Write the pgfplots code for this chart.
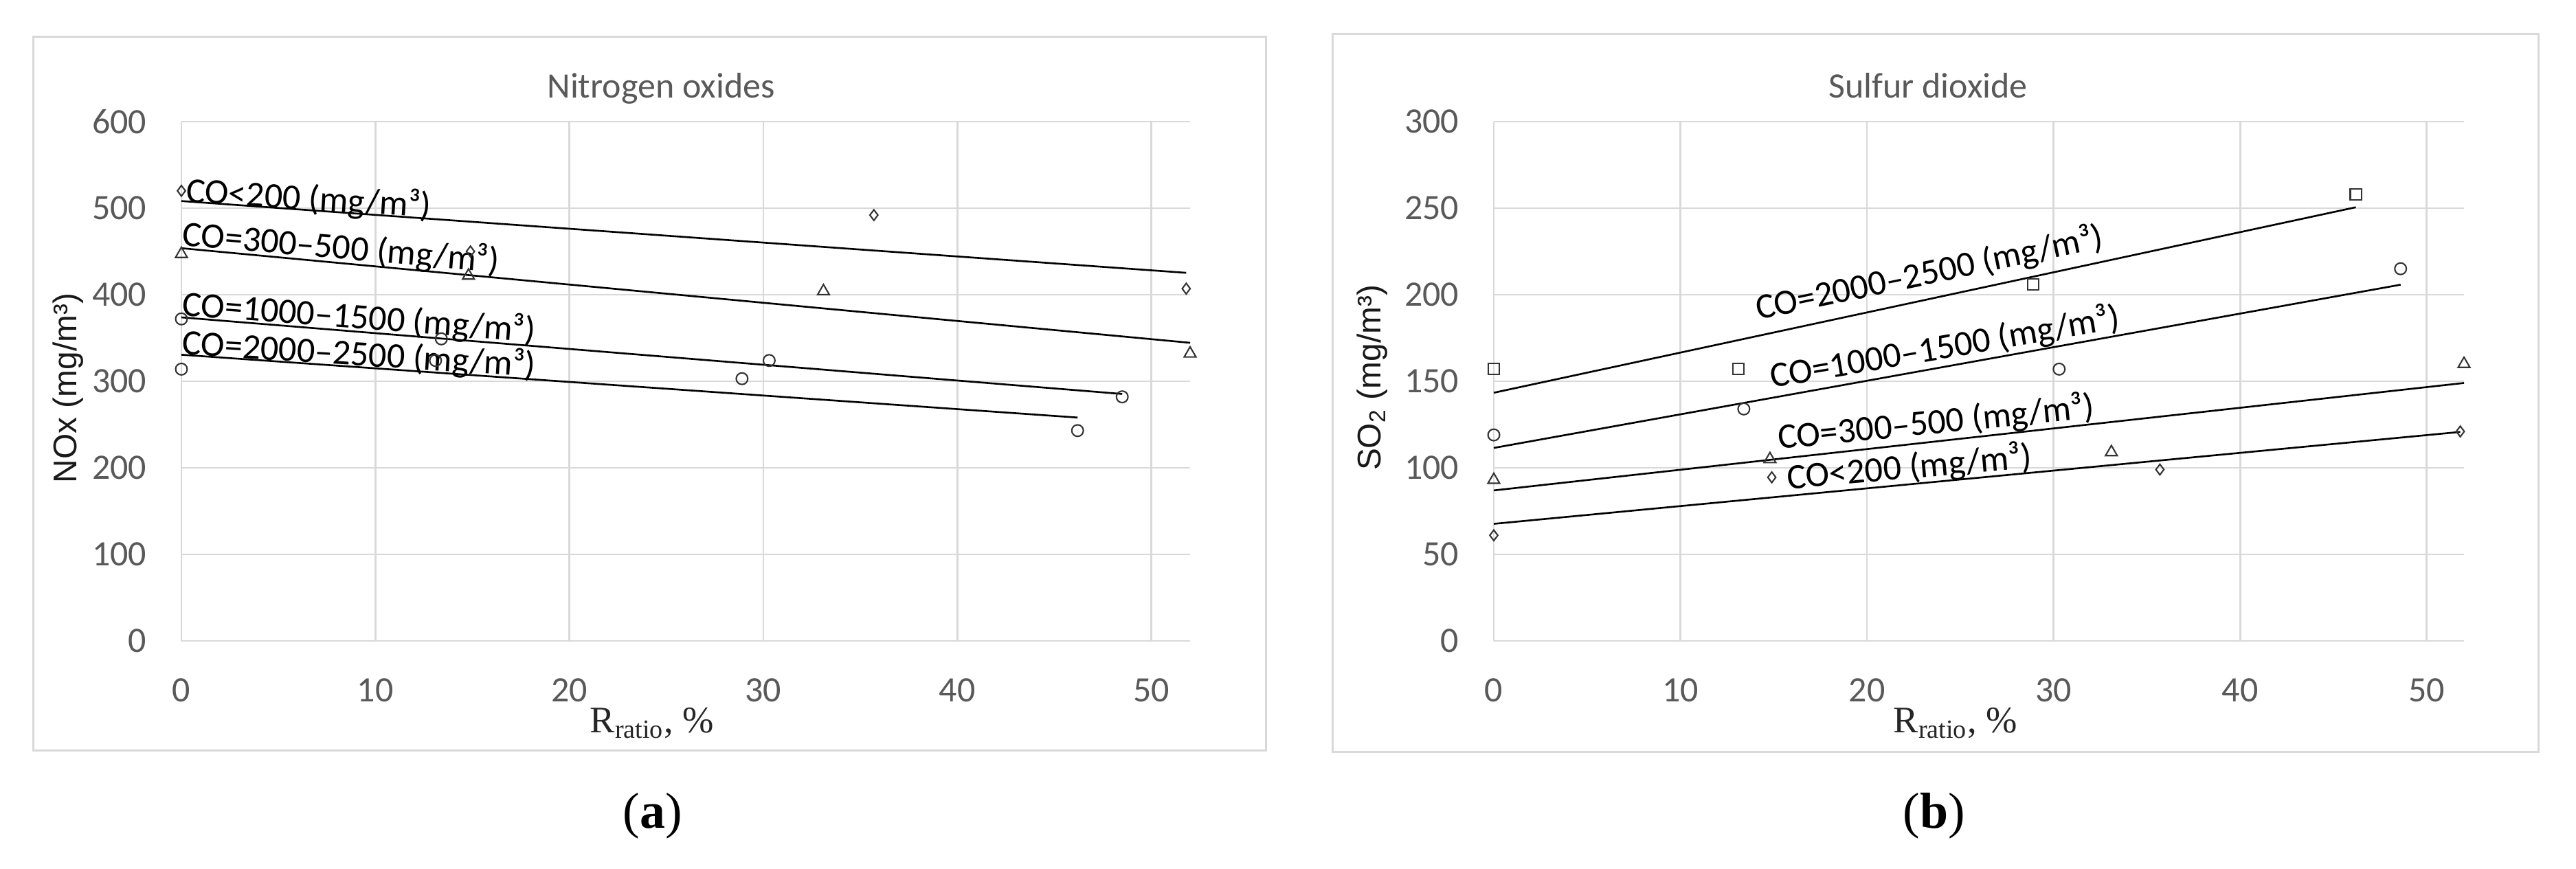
\documentclass[border=0pt]{standalone}
\usepackage{fontspec}
\setmainfont{Carlito}
\newfontfamily\arialf{Liberation Sans}
\newfontfamily\timesf{Liberation Serif}
\usepackage{pgfplots}
\usepackage{pgfplotstable}
\pgfplotsset{compat=1.18}

\definecolor{gridgray}{HTML}{D9D9D9}
\definecolor{ticktext}{HTML}{595959}

% NOx, mg/m3
\pgfplotstableread{
x y
0 520
14.9 450
35.7 492
51.8 407
}\noxA
\pgfplotstableread{
x y
0 447
14.8 422
33.1 404
52.0 332
}\noxB
\pgfplotstableread{
x y
0 372
13.4 349
30.3 324
48.5 282
}\noxC
\pgfplotstableread{
x y
0 314
13.1 324
28.9 303
46.2 243
}\noxD
% SO2, mg/m3
\pgfplotstableread{
x y
0 61
14.9 94.5
35.7 99
51.8 121
}\soA
\pgfplotstableread{
x y
0 93
14.8 105
33.1 109
52.0 160
}\soB
\pgfplotstableread{
x y
0 119
13.4 134
30.3 157
48.6 215
}\soC
\pgfplotstableread{
x y
0 157
13.1 157
28.9 206
46.2 258
}\soD

\newcommand{\lblfont}{\fontsize{14.8}{17}\selectfont}

\tikzset{curvelbl/.style={font=\lblfont, text=black, anchor=base west, inner sep=0pt}}

\pgfplotsset{
  panel/.style={
    scale only axis, height=7.56cm,
    xmin=0, xmax=52, ymin=0,
    xtick={0,10,...,50},
    grid=major,
    major grid style={draw=gridgray, line width=0.75pt},
    axis line style={draw=none},
    major tick length=0pt,
    tick label style={font=\lblfont, text=ticktext, inner sep=0pt},
    /pgf/number format/assume math mode=true,
    yticklabel style={xshift=-0.5cm},
    xticklabel style={yshift=-0.54cm},
    clip=false,
  },
  trend/.style={black, line width=0.75pt, no marks},
  pts/.style={only marks, mark options={draw=black!80, line width=0.6pt, solid}},
}

\begin{document}
\begin{tikzpicture}
\useasboundingbox (0,0) rectangle (37.49,12.65);

% chart frames
\draw[gridgray, line width=0.85pt] (0.485,1.72) rectangle (18.42,12.114);
\draw[gridgray, line width=0.85pt] (19.39,1.70) rectangle (36.94,12.15);

% (a) Nitrogen oxides
\begin{axis}[panel, at={(2.64cm,3.32cm)}, anchor=south west,
  width=14.68cm, ymax=600, ytick={0,100,...,600}]
\addplot[pts, mark=diamond, mark size=2.2pt] table[x=x,y=y]{\noxA};
\addplot[pts, mark=triangle, mark size=2.8pt] table[x=x,y=y]{\noxB};
\addplot[pts, mark=o, mark size=2.4pt] table[x=x,y=y]{\noxC};
\addplot[pts, mark=o, mark size=2.4pt] table[x=x,y=y]{\noxD};
\addplot[trend] table[x=x, y={create col/linear regression={y=y}}]{\noxA};
\addplot[trend] table[x=x, y={create col/linear regression={y=y}}]{\noxB};
\addplot[trend] table[x=x, y={create col/linear regression={y=y}}]{\noxC};
\addplot[trend] table[x=x, y={create col/linear regression={y=y}}]{\noxD};
\node[curvelbl, rotate=-3.6] at (axis cs:0.2,507) {CO<200 (mg/m³)};
\node[curvelbl, rotate=-4.9] at (axis cs:0.0,457) {CO=300–500 (mg/m³)};
\node[curvelbl, rotate=-4.3] at (axis cs:0.0,376) {CO=1000–1500 (mg/m³)};
\node[curvelbl, rotate=-3.6] at (axis cs:0.0,331) {CO=2000–2500 (mg/m³)};
\end{axis}

% (b) Sulfur dioxide
\begin{axis}[panel, at={(21.74cm,3.32cm)}, anchor=south west,
  width=14.12cm, ymax=300, ytick={0,50,...,300}]
\addplot[pts, mark=diamond, mark size=2.2pt] table[x=x,y=y]{\soA};
\addplot[pts, mark=triangle, mark size=2.8pt] table[x=x,y=y]{\soB};
\addplot[pts, mark=o, mark size=2.4pt] table[x=x,y=y]{\soC};
\addplot[pts, mark=square, mark size=2.3pt] table[x=x,y=y]{\soD};
\addplot[trend] table[x=x, y={create col/linear regression={y=y}}]{\soA};
\addplot[trend] table[x=x, y={create col/linear regression={y=y}}]{\soB};
\addplot[trend] table[x=x, y={create col/linear regression={y=y}}]{\soC};
\addplot[trend] table[x=x, y={create col/linear regression={y=y}}]{\soD};
\node[curvelbl, rotate=11.8] at (axis cs:14.16,185.3) {CO=2000–2500 (mg/m³)};
\node[curvelbl, rotate=9.7] at (axis cs:14.9,146.0) {CO=1000–1500 (mg/m³)};
\node[curvelbl, rotate=5.7] at (axis cs:15.27,110.7) {CO=300–500 (mg/m³)};
\node[curvelbl, rotate=5.0] at (axis cs:15.75,87.6) {CO<200 (mg/m³)};
\end{axis}

% titles
\node[font=\lblfont, text=ticktext, anchor=base] at (9.62,11.22) {Nitrogen oxides};
\node[font=\lblfont, text=ticktext, anchor=base] at (28.06,11.22) {Sulfur dioxide};

% axis titles
\node[font=\arialf\fontsize{13.6}{16}\selectfont, text=black!90, rotate=90] at (0.99,7.0) {NOx (mg/m³)};
\node[font=\arialf\fontsize{13.6}{16}\selectfont, text=black!90, rotate=90] at (19.97,7.15) {SO\textsubscript{2} (mg/m³)};
\node[font=\timesf\fontsize{15.5}{18}\selectfont, text=black!85, anchor=base] at (9.49,1.98) {R\textsubscript{ratio}, \%};
\node[font=\timesf\fontsize{15.5}{18}\selectfont, text=black!85, anchor=base] at (28.46,1.98) {R\textsubscript{ratio}, \%};

% panel captions
\node[font=\timesf\fontsize{21}{24}\selectfont] at (9.50,0.77) {(\textbf{a})};
\node[font=\timesf\fontsize{21}{24}\selectfont] at (28.15,0.77) {(\textbf{b})};
\end{tikzpicture}
\end{document}
